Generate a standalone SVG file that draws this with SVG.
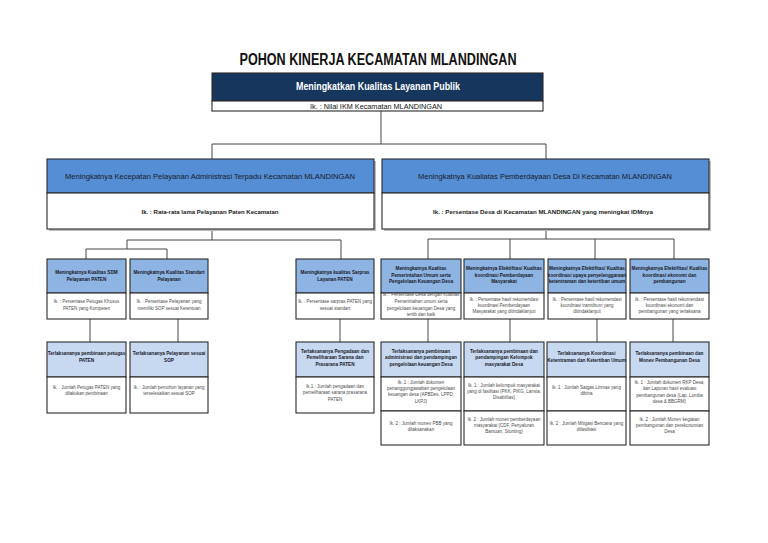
<svg xmlns="http://www.w3.org/2000/svg" width="768" height="543" viewBox="0 0 768 543">
<style>
text{font-family:"Liberation Sans Narrow","Liberation Sans",Arial,sans-serif;text-anchor:middle}
.title{font-size:16px;font-weight:bold;fill:#111}
.bx{stroke:#2a2a2a;stroke-width:1.1}
.sh{fill:#bdbdbd}
.navy{fill:#17365d}
.b2{fill:#558ed5}
.b3{fill:#8db4e2}
.b4{fill:#c6d9f1}
.wh{fill:#ffffff}
.h2{font-size:6.6px;fill:#1a1a2a}
.i2{font-size:5.4px;fill:#1a1a1a;font-weight:bold}
.h3{font-size:4.7px;font-weight:bold;fill:#1a1a2a}
.t{font-size:4.5px;fill:#4a4a4a}
.con path{fill:none;stroke:#444;stroke-width:1}
</style>
<rect width="768" height="543" fill="#ffffff"/>
<text class="title" x="378" y="65" textLength="277" lengthAdjust="spacingAndGlyphs">POHON KINERJA KECAMATAN MLANDINGAN</text>

<g id="connectors" class="con">
<path d="M381 111V144M212 144H546M212 144V159M546 144V159"/>
<path d="M212 229V240M127 240H341M127 240V249M86 249H167M86 249V259M167 249V259M341 240V259"/>
<path d="M546 229V239M428 239H674M428 239V259M510 239V259M595 239V259M674 239V259"/>
<path d="M90 319V342M178 319V342M340 319V342"/>
<path d="M428 319V342M510 319V342M597 319V342M673 319V342"/>
</g>

<g id="top">
<rect class="navy bx" x="212" y="73" width="331" height="28"/>
<rect class="wh bx" x="212" y="101" width="331" height="10"/>
<text x="378" y="90" font-size="10.5" font-weight="bold" fill="#ffffff" textLength="164" lengthAdjust="spacingAndGlyphs">Meningkatkan Kualitas Layanan Publik</text>
<text x="376" y="108.5" font-size="7" fill="#111" textLength="132" lengthAdjust="spacingAndGlyphs">Ik. : Nilai IKM Kecamatan MLANDINGAN</text>
</g>

<g id="l2a">
<rect class="sh" x="49" y="161" width="327" height="70"/>
<rect class="b2 bx" x="47" y="159" width="327" height="34"/>
<rect class="wh bx" x="47" y="193" width="327" height="36"/>
<text class="h2" x="210" y="178.5" textLength="290" lengthAdjust="spacingAndGlyphs">Meningkatnya Kecepatan Pelayanan Administrasi Terpadu Kecamatan MLANDINGAN</text>
<text class="i2" x="210" y="213.5" textLength="137" lengthAdjust="spacingAndGlyphs">Ik. : Rata-rata lama Pelayanan Paten Kecamatan</text>
</g>

<g id="l2b">
<rect class="sh" x="384" y="161" width="327" height="70"/>
<rect class="b2 bx" x="382" y="159" width="327" height="34"/>
<rect class="wh bx" x="382" y="193" width="327" height="36"/>
<text class="h2" x="545" y="178.5" textLength="254" lengthAdjust="spacingAndGlyphs">Meningkatnya Kualiatas Pemberdayaan Desa Di Kecamatan MLANDINGAN</text>
<text class="i2" x="543" y="213.5" textLength="220" lengthAdjust="spacingAndGlyphs">Ik. : Persentase Desa di Kecamatan MLANDINGAN yang meningkat IDMnya</text>
</g>

<g id="l3a">
<rect class="b3 bx" x="47" y="259" width="79" height="34"/>
<rect class="wh bx" x="47" y="293" width="79" height="26"/>
<text class="h3" x="86.5" y="274">Meningkatnya Kualitas SDM</text>
<text class="h3" x="86.5" y="281">Pelayanan PATEN</text>
<text class="t" x="86.5" y="302.5">Ik. : Persentase Petugas Khusus</text>
<text class="t" x="86.5" y="309.5">PATEN yang Kompeten</text>
</g>
<g id="l3b">
<rect class="b3 bx" x="130" y="259" width="78" height="34"/>
<rect class="wh bx" x="130" y="293" width="78" height="26"/>
<text class="h3" x="169" y="274">Meningkatnya Kualitas Standart</text>
<text class="h3" x="169" y="281">Pelayanan</text>
<text class="t" x="169" y="302.5">Ik. : Persentase Pelayanan yang</text>
<text class="t" x="169" y="309.5">memiliki SOP sesuai Ketentuan</text>
</g>
<g id="l3c">
<rect class="b3 bx" x="296" y="259" width="78" height="34"/>
<rect class="wh bx" x="296" y="293" width="78" height="26"/>
<text class="h3" x="335" y="274">Meningkatnya kualitas Sarpras</text>
<text class="h3" x="335" y="281">Layanan PATEN</text>
<text class="t" x="335" y="302.5">Ik. : Persentase sarpras PATEN yang</text>
<text class="t" x="335" y="309.5">sesuai standart</text>
</g>

<g id="l3d">
<rect class="b3 bx" x="381" y="259" width="80" height="34"/>
<rect class="wh bx" x="381" y="293" width="80" height="26"/>
<text class="h3" x="421" y="270">Meningkatnya Kualitas</text>
<text class="h3" x="421" y="276.5">Pemerintahan Umum serta</text>
<text class="h3" x="421" y="283">Pengelolaan Keuangan Desa</text>
<text class="t" x="421" y="296">Ik. : Persentase Desa dengan Kualitas</text>
<text class="t" x="421" y="302.5">Pemerintahan umum serta</text>
<text class="t" x="421" y="309.5">pengelolaan keuangan Desa yang</text>
<text class="t" x="421" y="316">tertib dan baik</text>
</g>
<g id="l3e">
<rect class="b3 bx" x="464" y="259" width="80" height="34"/>
<rect class="wh bx" x="464" y="293" width="80" height="26"/>
<text class="h3" x="504" y="270">Meningkatnya Efektifitas/ Kualitas</text>
<text class="h3" x="504" y="276.5">koordinasi Pemberdayaan</text>
<text class="h3" x="504" y="283">Masyarakat</text>
<text class="t" x="504" y="300.5">Ik. : Persentase hasil rekomendasi</text>
<text class="t" x="504" y="306.5">koordinasi Pemberdayaan</text>
<text class="t" x="504" y="312.5">Masyarakat yang ditindaklanjuti</text>
</g>
<g id="l3f">
<rect class="b3 bx" x="548" y="259" width="78" height="34"/>
<rect class="wh bx" x="548" y="293" width="78" height="26"/>
<text class="h3" x="587" y="270">Meningkatnya Efektifitas/ Kualitas</text>
<text class="h3" x="587" y="276.5">koordinasi upaya penyelenggaraan</text>
<text class="h3" x="587" y="283">ketentraman dan ketertiban umum</text>
<text class="t" x="587" y="300.5">Ik. : Persentase hasil rekomendasi</text>
<text class="t" x="587" y="306.5">koordinasi tramtibum yang</text>
<text class="t" x="587" y="312.5">ditindaklanjuti</text>
</g>
<g id="l3g">
<rect class="b3 bx" x="630" y="259" width="79" height="34"/>
<rect class="wh bx" x="630" y="293" width="79" height="26"/>
<text class="h3" x="669.5" y="270">Meningkatnya Efektifitas/ Kualitas</text>
<text class="h3" x="669.5" y="276.5">koordinasi ekonomi dan</text>
<text class="h3" x="669.5" y="283">pembangunan</text>
<text class="t" x="669.5" y="300.5">Ik. : Persentase hasil rekomendasi</text>
<text class="t" x="669.5" y="306.5">koordinasi ekonomi dan</text>
<text class="t" x="669.5" y="312.5">pembangunan yang terlaksana</text>
</g>

<g id="l4a">
<rect class="b4 bx" x="47" y="342" width="79" height="35"/>
<rect class="wh bx" x="47" y="377" width="79" height="36"/>
<text class="h3" x="86.5" y="355">Terlaksananya pembinaan petugas</text>
<text class="h3" x="86.5" y="362">PATEN</text>
<text class="t" x="86.5" y="388.5">Ik. : Jumlah Petugas PATEN yang</text>
<text class="t" x="86.5" y="395">dilakukan pembinaan</text>
</g>
<g id="l4b">
<rect class="b4 bx" x="130" y="342" width="78" height="35"/>
<rect class="wh bx" x="130" y="377" width="78" height="36"/>
<text class="h3" x="169" y="355">Terlaksananya Pelayanan sesuai</text>
<text class="h3" x="169" y="362">SOP</text>
<text class="t" x="169" y="388.5">Ik. : Jumlah pemohon layanan yang</text>
<text class="t" x="169" y="395">terselesaikan sesuai SOP</text>
</g>
<g id="l4c">
<rect class="b4 bx" x="296" y="342" width="78" height="35"/>
<rect class="wh bx" x="296" y="377" width="78" height="36"/>
<text class="h3" x="335" y="352.5">Terlaksananya Pengadaan dan</text>
<text class="h3" x="335" y="359">Pemeliharaan Sarana dan</text>
<text class="h3" x="335" y="365.5">Prasarana PATEN</text>
<text class="t" x="335" y="387.5">Ik.1 : Jumlah pengadaan dan</text>
<text class="t" x="335" y="394">pemeliharaan sarana prasarana</text>
<text class="t" x="335" y="400.5">PATEN</text>
</g>

<g id="l4d">
<rect class="b4 bx" x="381" y="342" width="80" height="35"/>
<rect class="wh bx" x="381" y="377" width="80" height="34"/>
<rect class="wh bx" x="381" y="411" width="80" height="34"/>
<text class="h3" x="421" y="352.5">Terlaksananya pembinaan</text>
<text class="h3" x="421" y="359">administrasi dan pendampingan</text>
<text class="h3" x="421" y="365.5">pengelolaan keuangan Desa</text>
<text class="t" x="421" y="384">Ik. 1 : Jumlah dokumen</text>
<text class="t" x="421" y="390">pertanggungjawaban pengelolaan</text>
<text class="t" x="421" y="396">keuangan desa (APBDes, LPPD,</text>
<text class="t" x="421" y="402.5">LKPJ)</text>
<text class="t" x="421" y="424.5">Ik. 2 : Jumlah monev PBB yang</text>
<text class="t" x="421" y="430.5">dilaksanakan</text>
</g>
<g id="l4e">
<rect class="b4 bx" x="464" y="342" width="80" height="35"/>
<rect class="wh bx" x="464" y="377" width="80" height="34"/>
<rect class="wh bx" x="464" y="411" width="80" height="34"/>
<text class="h3" x="504" y="352.5">Terlaksananya pembinaan dan</text>
<text class="h3" x="504" y="359">pendampingan Kelompok</text>
<text class="h3" x="504" y="365.5">masyarakat Desa</text>
<text class="t" x="504" y="386.5">Ik. 1 : Jumlah kelompok masyarakat</text>
<text class="t" x="504" y="392.5">yang di fasilitasi (PKK, PIKG, Lansia,</text>
<text class="t" x="504" y="398.5">Disabilitas)</text>
<text class="t" x="504" y="420.5">Ik. 2 : Jumlah monev pemberdayaan</text>
<text class="t" x="504" y="426.5">masyarakat (CDF, Penyaluran</text>
<text class="t" x="504" y="432.5">Bantuan, Stunting)</text>
</g>
<g id="l4f">
<rect class="b4 bx" x="547" y="342" width="79" height="35"/>
<rect class="wh bx" x="547" y="377" width="79" height="34"/>
<rect class="wh bx" x="547" y="411" width="79" height="34"/>
<text class="h3" x="586.5" y="355">Terlaksananya Koordinasi</text>
<text class="h3" x="586.5" y="362">Ketentraman dan Ketertiban Umum</text>
<text class="t" x="586.5" y="388.5">Ik. 1 : Jumlah Satgas Linmas yang</text>
<text class="t" x="586.5" y="395">dibina</text>
<text class="t" x="586.5" y="424.5">Ik. 2 : Jumlah Mitigasi Bencana yang</text>
<text class="t" x="586.5" y="431">difasilitasi</text>
</g>
<g id="l4g">
<rect class="b4 bx" x="630" y="342" width="79" height="35"/>
<rect class="wh bx" x="630" y="377" width="79" height="34"/>
<rect class="wh bx" x="630" y="411" width="79" height="34"/>
<text class="h3" x="669.5" y="355">Terlaksananya pembinaan dan</text>
<text class="h3" x="669.5" y="362">Monev Pembangunan Desa</text>
<text class="t" x="669.5" y="383.5">Ik. 1 : Jumlah dokumen RKP Desa,</text>
<text class="t" x="669.5" y="390">dan Laporan hasil evaluasi</text>
<text class="t" x="669.5" y="396.5">pembangunan desa (Lap. Lomba</text>
<text class="t" x="669.5" y="403">desa &amp; BBGRM)</text>
<text class="t" x="669.5" y="420.5">Ik. 2 : Jumlah Monev kegiatan</text>
<text class="t" x="669.5" y="426.5">pembangunan dan perekonomian</text>
<text class="t" x="669.5" y="432.5">Desa</text>
</g>
</svg>
